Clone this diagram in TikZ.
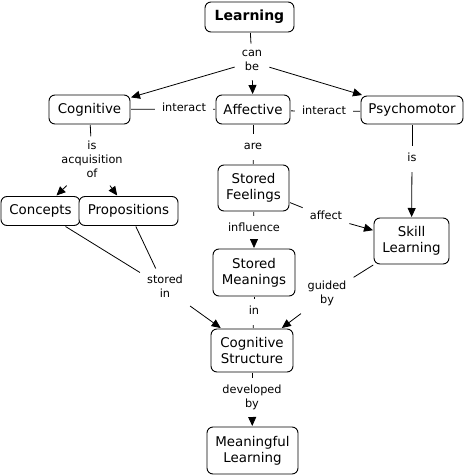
\documentclass[tikz,border=0pt]{standalone}
\usepackage{fontspec}
\setmainfont{DejaVu Sans}
\usetikzlibrary{arrows.meta}
\begin{document}
\begin{tikzpicture}[x=1pt,y=-1pt,
 box/.style={draw, fill=white, rounded corners=6pt, line width=0.9pt, inner sep=0pt, align=center, font=\fontsize{13.4}{16}\selectfont, outer sep=1pt},
 lab/.style={inner xsep=7pt, inner ysep=6pt, align=center, font=\fontsize{11.3}{14}\selectfont, execute at begin node=\strut, execute at end node=\strut},
 con/.style={line width=0.8pt},
 arr/.style={line width=0.8pt, -{Triangle[length=9pt,width=8pt]}}]
\fill[white] (0,0) rectangle (466,476);
\useasboundingbox (0,0) rectangle (466,476);
% concepts
\node[box, minimum width=89pt, minimum height=30pt, font=\fontsize{14}{16}\selectfont\bfseries] (learning) at (249.5,17) {Learning};
\node[box, minimum width=81pt, minimum height=29pt] (cognitive) at (89.5,109.5) {Cognitive};
\node[box, minimum width=74pt, minimum height=29pt] (affective) at (253,109.5) {Affective};
\node[box, minimum width=102pt, minimum height=28pt] (psycho) at (412,110) {Psychomotor};
\node[box, minimum width=79pt, minimum height=29pt] (concepts) at (40.5,211) {Concepts};
\node[box, minimum width=99pt, minimum height=29pt] (props) at (128.5,211) {Propositions};
\node[box, minimum width=71pt, minimum height=46pt] (feelings) at (253.5,188) {Stored\\Feelings};
\node[box, minimum width=75pt, minimum height=46pt] (skill) at (411.5,241) {Skill\\Learning};
\node[box, minimum width=82pt, minimum height=47pt] (meanings) at (254,272.5) {Stored\\Meanings};
\node[box, minimum width=82pt, minimum height=43pt] (cogstruct) at (252,350.5) {Cognitive\\Structure};
\node[box, minimum width=91pt, minimum height=47pt] (meaningful) at (252.5,450.5) {Meaningful\\Learning};
% linking phrases
\node[lab] (canbe) at (252,62) {can\\be};
\node[lab] (int1) at (184,109) {interact};
\node[lab] (int2) at (324,112) {interact};
\node[lab, inner ysep=4pt] (isacq) at (92,161) {is\\acquisition\\of};
\node[lab] (are) at (253,147) {are};
\node[lab] (is) at (412,159) {is};
\node[lab] (affect) at (326,217) {affect};
\node[lab] (influence) at (254,229) {influence};
\node[lab] (storedin) at (165,288) {stored\\in};
\node[lab] (guidedby) at (327,294) {guided\\by};
\node[lab] (in) at (254,312) {in};
\node[lab] (devby) at (252,398) {developed\\by};
% connectors
\draw[con] (learning) -- (canbe);
\draw[arr] (canbe) -- (cognitive);
\draw[arr] (canbe) -- (affective);
\draw[arr] (canbe) -- (psycho);
\draw[con] (cognitive) -- (int1);
\draw[con] (int1) -- (affective);
\draw[con] (affective) -- (int2);
\draw[con] (int2) -- (psycho);
\draw[con] (cognitive) -- (isacq);
\draw[arr] (isacq) -- (concepts);
\draw[arr] (isacq) -- (props);
\draw[con] (affective) -- (are);
\draw[con] (are) -- (feelings);
\draw[con] (psycho) -- (is);
\draw[arr] (is) -- (skill);
\draw[con] (feelings) -- (affect);
\draw[arr] (affect) -- (skill);
\draw[con] (feelings) -- (influence);
\draw[arr] (influence) -- (meanings);
\draw[con] (concepts) -- (storedin);
\draw[con] (props) -- (storedin);
\draw[arr] (storedin) -- (cogstruct);
\draw[con] (meanings) -- (in);
\draw[con] (in) -- (cogstruct);
\draw[con] (skill) -- (guidedby);
\draw[arr] (guidedby) -- (cogstruct);
\draw[con] (cogstruct) -- (devby);
\draw[arr] (devby) -- (meaningful);
\end{tikzpicture}
\end{document}
